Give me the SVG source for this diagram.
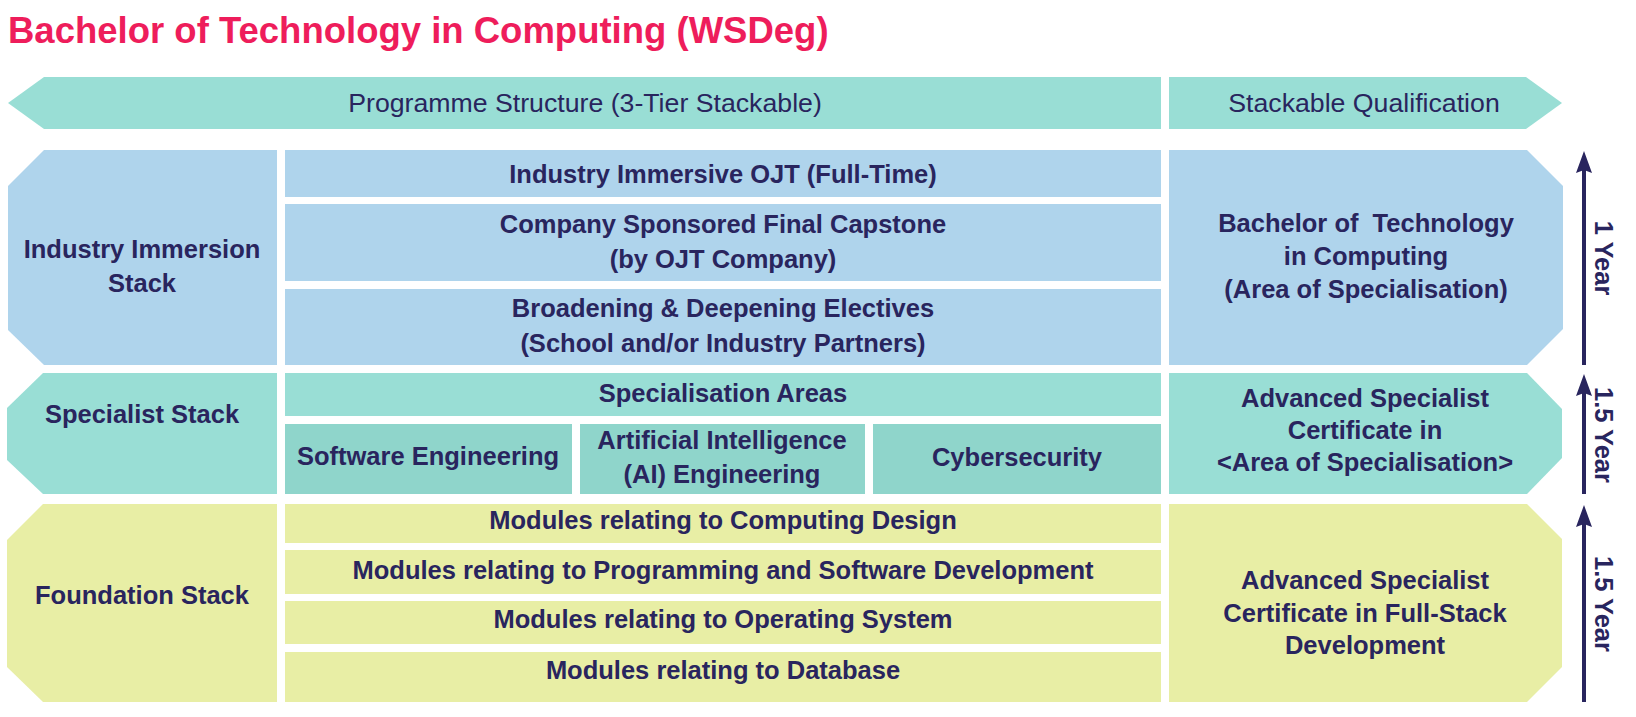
<svg xmlns="http://www.w3.org/2000/svg" width="1636" height="717" viewBox="0 0 1636 717">
<style>
.t{font-family:"Liberation Sans",Arial,sans-serif;font-weight:700;font-size:25.5px;fill:#29255e;text-anchor:middle}
.r{font-family:"Liberation Sans",Arial,sans-serif;font-weight:400;font-size:26.7px;fill:#29255e;text-anchor:middle}
.title{font-family:"Liberation Sans",Arial,sans-serif;font-weight:700;font-size:36.5px;fill:#ee1d5b}
.blue{fill:#afd4ec}
.teal{fill:#99ded5}
.teal2{fill:#8fd5cb}
.yel{fill:#e8eea5}
.arr{stroke:#29255e;stroke-width:4;fill:none}
</style>
<defs>
<marker id="ah" viewBox="0 0 22 16" refX="12" refY="8" markerWidth="22" markerHeight="16" markerUnits="userSpaceOnUse" orient="auto">
<path d="M0,0 L22,8 L0,16 L3,8 z" fill="#29255e"/>
</marker>
</defs>
<rect width="1636" height="717" fill="#ffffff"/>
<g id="title"><text class="title" x="8" y="43">Bachelor of Technology in Computing (WSDeg)</text></g>
<g id="banner-structure">
<polygon class="teal" points="8,103 44,77 1161,77 1161,129 44,129"/>
<text class="r" x="585" y="112">Programme Structure (3-Tier Stackable)</text>
</g>
<g id="banner-qualification">
<polygon class="teal" points="1169,77 1526,77 1562,103 1526,129 1169,129"/>
<text class="r" x="1364" y="112">Stackable Qualification</text>
</g>
<g id="industry-stack">
<polygon class="blue" points="44,150 277,150 277,365 44,365 8,330 8,186"/>
<text class="t" x="142" y="258">Industry Immersion</text>
<text class="t" x="142" y="292">Stack</text>
</g>
<g id="ojt">
<rect class="blue" x="285" y="150" width="876" height="47"/>
<text class="t" x="723" y="183">Industry Immersive OJT (Full-Time)</text>
</g>
<g id="capstone">
<rect class="blue" x="285" y="204" width="876" height="77"/>
<text class="t" x="723" y="233">Company Sponsored Final Capstone</text>
<text class="t" x="723" y="268">(by OJT Company)</text>
</g>
<g id="electives">
<rect class="blue" x="285" y="289" width="876" height="76"/>
<text class="t" x="723" y="317">Broadening &amp; Deepening Electives</text>
<text class="t" x="723" y="352">(School and/or Industry Partners)</text>
</g>
<g id="bachelor">
<polygon class="blue" points="1169,150 1527,150 1563,186 1563,329 1527,365 1169,365"/>
<text class="t" x="1366" y="232" xml:space="preserve">Bachelor of  Technology</text>
<text class="t" x="1366" y="265">in Computing</text>
<text class="t" x="1366" y="298">(Area of Specialisation)</text>
</g>
<g id="specialist-stack">
<polygon class="teal" points="43,373 277,373 277,494 43,494 7,460 7,408"/>
<text class="t" x="142" y="423">Specialist Stack</text>
</g>
<g id="spec-areas">
<rect class="teal" x="285" y="373" width="876" height="43"/>
<text class="t" x="723" y="402">Specialisation Areas</text>
</g>
<g id="software-eng">
<rect class="teal2" x="285" y="424" width="287" height="70"/>
<text class="t" x="428" y="465">Software Engineering</text>
</g>
<g id="ai-eng">
<rect class="teal2" x="580" y="424" width="285" height="70"/>
<text class="t" x="722" y="449">Artificial Intelligence</text>
<text class="t" x="722" y="483">(AI) Engineering</text>
</g>
<g id="cyber">
<rect class="teal2" x="873" y="424" width="288" height="70"/>
<text class="t" x="1017" y="466">Cybersecurity</text>
</g>
<g id="adv-spec">
<polygon class="teal" points="1169,373 1527,373 1562,409 1562,458 1527,494 1169,494"/>
<text class="t" x="1365" y="407">Advanced Specialist</text>
<text class="t" x="1365" y="439">Certificate in</text>
<text class="t" x="1365" y="471">&lt;Area of Specialisation&gt;</text>
</g>
<g id="foundation-stack">
<polygon class="yel" points="43,504 277,504 277,702 43,702 7,667 7,540"/>
<text class="t" x="142" y="604">Foundation Stack</text>
</g>
<g id="mod-design">
<rect class="yel" x="285" y="504" width="876" height="39"/>
<text class="t" x="723" y="529">Modules relating to Computing Design</text>
</g>
<g id="mod-programming">
<rect class="yel" x="285" y="550" width="876" height="44"/>
<text class="t" x="723" y="579">Modules relating to Programming and Software Development</text>
</g>
<g id="mod-os">
<rect class="yel" x="285" y="601" width="876" height="43"/>
<text class="t" x="723" y="628">Modules relating to Operating System</text>
</g>
<g id="mod-db">
<rect class="yel" x="285" y="652" width="876" height="50"/>
<text class="t" x="723" y="679">Modules relating to Database</text>
</g>
<g id="adv-fullstack">
<polygon class="yel" points="1169,504 1527,504 1562,539 1562,667 1527,702 1169,702"/>
<text class="t" x="1365" y="589">Advanced Specialist</text>
<text class="t" x="1365" y="622">Certificate in Full-Stack</text>
<text class="t" x="1365" y="654">Development</text>
</g>
<g id="connectors">
<line class="arr" x1="1584" y1="365" x2="1584" y2="161" marker-end="url(#ah)"/>
<line class="arr" x1="1584" y1="494" x2="1584" y2="384" marker-end="url(#ah)"/>
<line class="arr" x1="1584" y1="702" x2="1584" y2="515" marker-end="url(#ah)"/>
</g>
<g id="durations">
<text class="t" transform="translate(1595,258) rotate(90)">1 Year</text>
<text class="t" transform="translate(1595,435) rotate(90)">1.5 Year</text>
<text class="t" transform="translate(1595,604) rotate(90)">1.5 Year</text>
</g>
</svg>
